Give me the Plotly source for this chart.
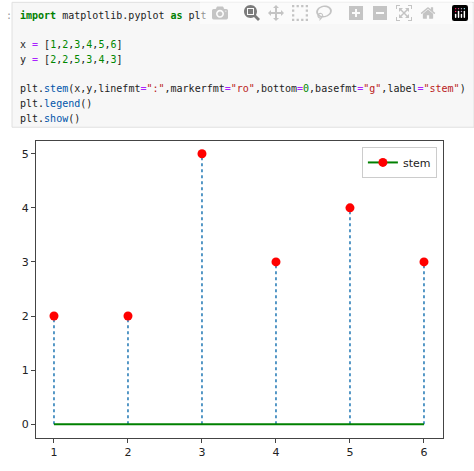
import plotly.graph_objects as go

x = [1, 2, 3, 4, 5, 6]
y = [2, 2, 5, 3, 4, 3]
bottom = 0
label = "stem"

W, H = 474, 471
L, R, T, B = 36, 31, 141, 28
pw, ph = W - L - R, H - T - B

def px(xp):
    return (xp - L) / pw
def py(yp):
    return (H - B - yp) / ph

fig = go.Figure()
sx, sy = [], []
for xi, yi in zip(x, y):
    sx += [xi, xi, None]
    sy += [bottom, yi, None]
fig.add_trace(go.Scatter(x=sx, y=sy, mode="lines", line=dict(color="#1f77b4", dash="dot", width=1.5),
                         showlegend=False, hoverinfo="skip"))
fig.add_trace(go.Scatter(x=[min(x), max(x)], y=[bottom, bottom], mode="lines",
                         line=dict(color="#008000", width=2), showlegend=False))
fig.add_trace(go.Scatter(x=x, y=y, mode="markers", marker=dict(color="#ff0000", size=9), showlegend=False))
fig.add_trace(go.Scatter(x=[None], y=[None], mode="lines+markers", name=label,
                         line=dict(color="#008000", width=2), marker=dict(color="#ff0000", size=9)))

G = "#008000"; P = "#AA22FF"; N = "#008800"; S = "#BA2121"; M = "#0055AA"; K = "#222"
def c(t, col, b=False):
    t = t.replace("<", "&lt;")
    s = f"<span style='color:{col}'>{t}</span>"
    return f"<b>{s}</b>" if b else s

lines = [
    (13, c("import", G, True) + c(" matplotlib.pyplot ", K) + c("as", G, True) + c(" plt", K)),
    (43, c("x ", K) + c("=", P) + c(" [", K) + c("1", N) + c(",", K) + c("2", N) + c(",", K) + c("3", N) + c(",", K) + c("4", N) + c(",", K) + c("5", N) + c(",", K) + c("6", N) + c("]", K)),
    (58, c("y ", K) + c("=", P) + c(" [", K) + c("2", N) + c(",", K) + c("2", N) + c(",", K) + c("5", N) + c(",", K) + c("3", N) + c(",", K) + c("4", N) + c(",", K) + c("3", N) + c("]", K)),
    (88, c("plt.", K) + c("stem", M) + c("(x,y,linefmt", K) + c("=", P) + c('":"', S) + c(",markerfmt", K) + c("=", P) + c('"ro"', S)
         + c(",bottom", K) + c("=", P) + c("0", N) + c(",basefmt", K) + c("=", P) + c('"g"', S) + c(",label", K) + c("=", P) + c('"stem"', S) + c(")", K)),
    (103, c("plt.", K) + c("legend", M) + c("()", K)),
    (118, c("plt.", K) + c("show", M) + c("()", K)),
]
anns = []
for yp, txt in lines:
    anns.append(dict(xref="paper", yref="paper", x=px(18), y=py(yp), text=txt, showarrow=False,
                     xanchor="left", yanchor="middle", font=dict(family="DejaVu Sans Mono", size=10)))
anns.append(dict(xref="paper", yref="paper", x=px(4), y=py(13), text=":", showarrow=False,
                 xanchor="left", yanchor="middle", font=dict(family="DejaVu Sans Mono", size=10, color="#999")))

fig.update_layout(
    width=W, height=H, margin=dict(l=L, r=R, t=T, b=B),
    plot_bgcolor="white", paper_bgcolor="white",
    font=dict(family="DejaVu Sans", size=11, color="#222"),
    annotations=anns,
    shapes=[dict(type="rect", xref="paper", yref="paper", x0=px(12), x1=px(474), y0=py(127), y1=py(0),
                 fillcolor="#f7f7f7", line=dict(color="#e0e0e0", width=1), layer="below")],
    legend=dict(x=0.985, y=0.98, xanchor="right", yanchor="top", bordercolor="#ccc", borderwidth=1,
                bgcolor="white", font=dict(size=11)),
    xaxis=dict(range=[0.757, 6.257], tickvals=x, showgrid=False, zeroline=False, showline=True, mirror=True,
               linecolor="#444", ticks="outside", ticklen=4, tickcolor="#444"),
    yaxis=dict(range=[-0.255, 5.236], tickvals=[0, 1, 2, 3, 4, 5], showgrid=False, zeroline=False, showline=True,
               mirror=True, linecolor="#444", ticks="outside", ticklen=4, tickcolor="#444"),
)
fig.write_html("out.html", post_script="document.body.style.margin='0';document.body.style.overflow='hidden';")
